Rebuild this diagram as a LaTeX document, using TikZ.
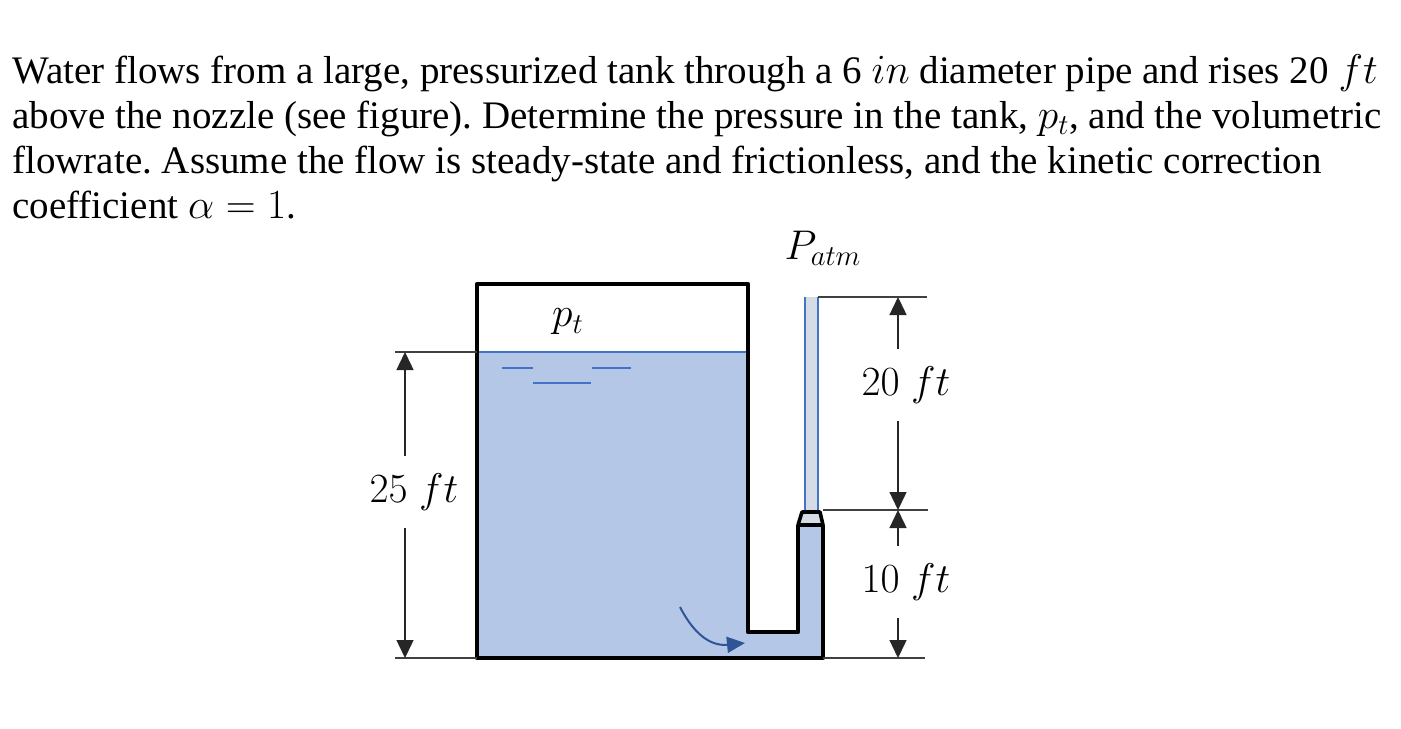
\documentclass[tikz,border=0pt]{standalone}
\usepackage{fontspec}
\setmainfont{Liberation Serif}
\usepackage{tikz}
\usetikzlibrary{arrows.meta,positioning}
\frenchspacing

\definecolor{water}{HTML}{B4C7E7}
\definecolor{waterline}{HTML}{4472C4}
\definecolor{jet}{HTML}{D6DCE5}
\definecolor{flowblue}{HTML}{2F5597}

\begin{document}
\begin{tikzpicture}[x=0.5pt,y=-0.5pt,
    >={Triangle[length=9pt,width=8.5pt]},
    wall/.style={line width=2.3pt,line join=round},
    extline/.style={black!75,line width=0.7pt},
    dimarrow/.style={->,black!85,line width=0.7pt},
    dimlabel/.style={font=\fontsize{20.5}{24}\selectfont,minimum height=36pt,inner sep=0pt},
    textline/.style={anchor=base west,inner sep=0pt,font=\fontsize{19.5}{22.5}\selectfont}]
  \useasboundingbox (0,0) rectangle (1401,728);

  % Question text
  \node[textline] (line1) at (12,83) {Water flows from a large, pressurized tank through a 6 $in$ diameter pipe and rises 20 $ft$};
  \node[textline] (line2) at (12,128) {above the nozzle (see figure). Determine the pressure in the tank, $p_t$, and the volumetric};
  \node[textline] (line3) at (12,173) {flowrate. Assume the flow is steady-state and frictionless, and the kinetic correction};
  \node[textline] (line4) at (12,218) {coefficient $\alpha = 1$.};

  % Water
  \fill[water] (477,352) rectangle (748,658);
  \fill[water] (748,632) rectangle (823,658);
  \fill[water] (798,525) rectangle (823,632);
  \fill[jet] (798,525) -- (802,512) -- (820,512) -- (823,525) -- cycle;
  \fill[jet] (805,297) rectangle (818,512);
  \draw[waterline,line width=0.8pt] (805,297) -- (805,512) (818,297) -- (818,512);
  \draw[waterline,line width=0.8pt] (477,352) -- (748,352);
  \draw[waterline,line width=0.7pt] (502,368) -- (533,368) (592,368) -- (631,368) (533,383) -- (591,383);

  % Tank and pipe
  \draw[wall] (798,525) -- (798,632) -- (748,632) -- (748,284) -- (477,284) -- (477,658) -- (823,658) -- (823,525);
  \draw[wall,line width=1.8pt] (798,525) -- (802,512) -- (820,512) -- (823,525) -- cycle;

  % Flow arrow
  \draw[flowblue,line width=1pt,-{Triangle[length=9pt,width=8pt]}] (680,607) .. controls (697,640) and (715,646) .. (745,643);

  % Labels
  \node[font=\fontsize{20}{24}\selectfont] (patm) at (823,248) {$P_{atm}$};
  \node[font=\fontsize{20}{24}\selectfont] (pt) at (568,322) {$p_t$};

  % Dimensions
  \coordinate (jettop) at (818,297);
  \coordinate (nozzle) at (823,510);
  \coordinate (base) at (823,658);
  \coordinate (surface) at (477,352);
  \coordinate (tankbase) at (477,658);
  \coordinate (rdim) at (898,0);
  \coordinate (ldim) at (405,0);
  \draw[extline] (jettop) -- (927,297);
  \draw[extline] (nozzle) -- (928,510);
  \draw[extline] (base) -- (925,658);
  \draw[extline] (surface) -- (395,352);
  \draw[extline] (tankbase) -- (395,658);

  \node[dimlabel] (h20) at (906,385) {$20\;ft$};
  \node[dimlabel] (h10) at (906,582) {$10\;ft$};
  \node[dimlabel] (h25) at (414,492) {$25\;ft$};
  \draw[dimarrow] (h20.north -| rdim) -- (jettop -| rdim);
  \draw[dimarrow] (h20.south -| rdim) -- (nozzle -| rdim);
  \draw[dimarrow] (h10.north -| rdim) -- (nozzle -| rdim);
  \draw[dimarrow] (h10.south -| rdim) -- (base -| rdim);
  \draw[dimarrow] (h25.north -| ldim) -- (surface -| ldim);
  \draw[dimarrow] (h25.south -| ldim) -- (tankbase -| ldim);
\end{tikzpicture}
\end{document}
